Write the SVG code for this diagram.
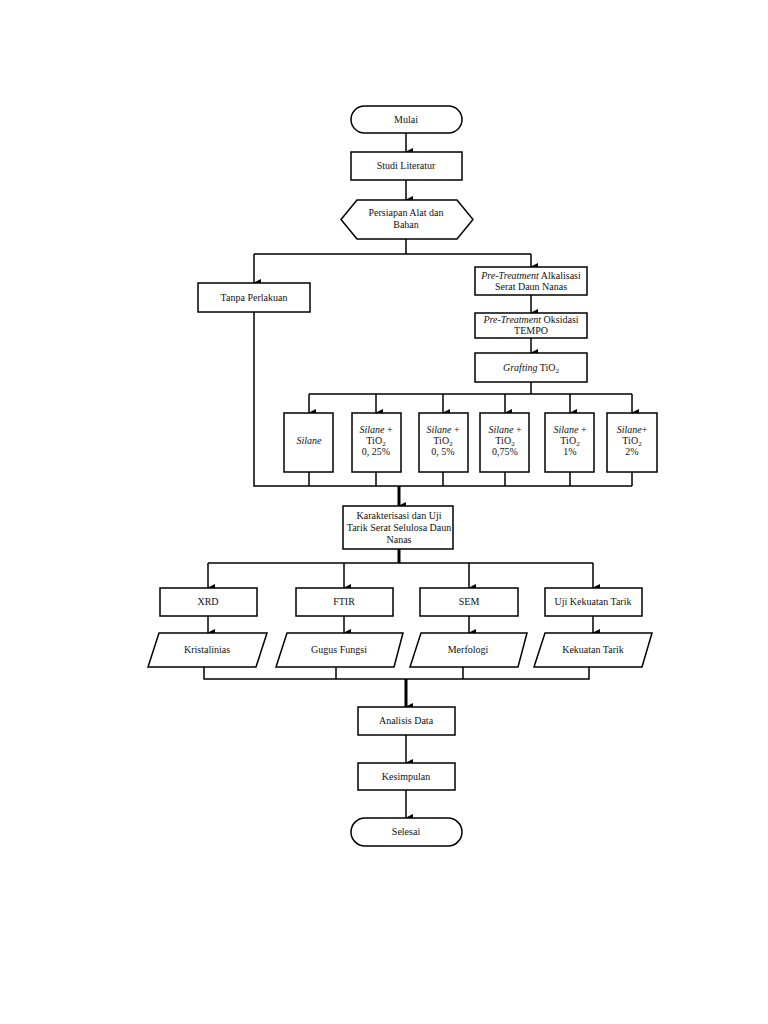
<svg xmlns="http://www.w3.org/2000/svg" width="768" height="1024" viewBox="0 0 768 1024">
<style>
.n{fill:#fff;stroke:#000;stroke-width:1.5}
.c{fill:none;stroke:#000;stroke-width:1.5}
.t{stroke-width:3}
text{font-family:"Liberation Serif",serif;font-size:10px;text-anchor:middle;fill:#111}
.i{font-style:italic}
</style>
<defs><marker id="a" markerWidth="8" markerHeight="8" refX="4" refY="7" orient="auto" markerUnits="userSpaceOnUse" viewBox="0 0 8 8"><path d="M0,0 L8,0 L4,8 z" fill="#000"/></marker></defs>
<rect width="768" height="1024" fill="#fff"/>
<g id="connectors">
<path class="c" d="M406,133 V152" marker-end="url(#a)"/>
<path class="c" d="M406,180 V200" marker-end="url(#a)"/>
<path class="c" d="M406,239 V254 M254,254 H531"/>
<path class="c" d="M254,254 V283" marker-end="url(#a)"/>
<path class="c" d="M531,254 V267" marker-end="url(#a)"/>
<path class="c" d="M531,295 V313" marker-end="url(#a)"/>
<path class="c" d="M531,338 V353" marker-end="url(#a)"/>
<path class="c" d="M531,382 V394 M309,394 H632"/>
<path class="c" d="M309,394 V413" marker-end="url(#a)"/>
<path class="c" d="M376,394 V413" marker-end="url(#a)"/>
<path class="c" d="M443,394 V413" marker-end="url(#a)"/>
<path class="c" d="M505,394 V413" marker-end="url(#a)"/>
<path class="c" d="M570,394 V413" marker-end="url(#a)"/>
<path class="c" d="M632,394 V413" marker-end="url(#a)"/>
<path class="c" d="M254,312 V486 H632 M309,472 V486 M376,472 V486 M443,472 V486 M505,472 V486 M570,472 V486 M632,472 V486"/>
<path class="c t" d="M399,486 V506" marker-end="url(#a)"/>
<path class="c t" d="M399,549 V563"/>
<path class="c" d="M208,563 H593"/>
<path class="c" d="M208,563 V588" marker-end="url(#a)"/>
<path class="c" d="M344,563 V588" marker-end="url(#a)"/>
<path class="c" d="M469,563 V588" marker-end="url(#a)"/>
<path class="c" d="M593,563 V588" marker-end="url(#a)"/>
<path class="c" d="M208,616 V633" marker-end="url(#a)"/>
<path class="c" d="M344,616 V633" marker-end="url(#a)"/>
<path class="c" d="M469,616 V633" marker-end="url(#a)"/>
<path class="c" d="M593,616 V633" marker-end="url(#a)"/>
<path class="c" d="M204,667 V679 H589 V667 M336,667 V679 M463,667 V679"/>
<path class="c t" d="M406,679 V707" marker-end="url(#a)"/>
<path class="c" d="M406,735 V763" marker-end="url(#a)"/>
<path class="c" d="M406,790 V818" marker-end="url(#a)"/>
</g>
<g id="mulai"><rect class="n" x="351" y="106" width="111" height="27" rx="13.5"/><text x="406" y="123">Mulai</text></g>
<g id="studi"><rect class="n" x="351" y="152" width="111" height="28"/><text x="406" y="169">Studi Literatur</text></g>
<g id="persiapan"><polygon class="n" points="357,200 457,200 473,219.5 457,239 357,239 341,219.5"/><text x="406" y="216">Persiapan Alat dan</text><text x="406" y="228">Bahan</text></g>
<g id="tanpa"><rect class="n" x="198" y="283" width="112" height="29"/><text x="254" y="301">Tanpa Perlakuan</text></g>
<g id="alkalisasi"><rect class="n" x="475" y="267" width="112" height="28"/><text x="531" y="279"><tspan class="i">Pre-Treatment</tspan> Alkalisasi</text><text x="531" y="290">Serat Daun Nanas</text></g>
<g id="oksidasi"><rect class="n" x="475" y="313" width="112" height="25"/><text x="531" y="323"><tspan class="i">Pre-Treatment</tspan> Oksidasi</text><text x="531" y="334">TEMPO</text></g>
<g id="grafting"><rect class="n" x="475" y="353" width="112" height="29"/><text x="531" y="371"><tspan class="i">Grafting</tspan> TiO<tspan font-size="7" dy="2">2</tspan></text></g>
<g id="s0"><rect class="n" x="284" y="413" width="49" height="59"/><text class="i" x="309" y="444">Silane</text></g>
<g id="s1"><rect class="n" x="352" y="413" width="49" height="59"/><text x="376" y="433"><tspan class="i">Silane</tspan> +</text><text x="376" y="444">TiO<tspan font-size="7" dy="2">2</tspan></text><text x="376" y="455">0, 25%</text></g>
<g id="s2"><rect class="n" x="419" y="413" width="49" height="59"/><text x="443" y="433"><tspan class="i">Silane</tspan> +</text><text x="443" y="444">TiO<tspan font-size="7" dy="2">2</tspan></text><text x="443" y="455">0, 5%</text></g>
<g id="s3"><rect class="n" x="480" y="413" width="49" height="59"/><text x="505" y="433"><tspan class="i">Silane</tspan> +</text><text x="505" y="444">TiO<tspan font-size="7" dy="2">2</tspan></text><text x="505" y="455">0,75%</text></g>
<g id="s4"><rect class="n" x="545" y="413" width="49" height="59"/><text x="570" y="433"><tspan class="i">Silane</tspan> +</text><text x="570" y="444">TiO<tspan font-size="7" dy="2">2</tspan></text><text x="570" y="455">1%</text></g>
<g id="s5"><rect class="n" x="607" y="413" width="50" height="59"/><text x="632" y="433"><tspan class="i">Silane</tspan>+</text><text x="632" y="444">TiO<tspan font-size="7" dy="2">2</tspan></text><text x="632" y="455">2%</text></g>
<g id="karakterisasi"><rect class="n" x="343" y="506" width="110" height="43"/><text x="399" y="519">Karakterisasi dan Uji</text><text x="399" y="531">Tarik Serat Selulosa Daun</text><text x="399" y="543">Nanas</text></g>
<g id="xrd"><rect class="n" x="160" y="588" width="97" height="28"/><text x="208" y="605">XRD</text></g>
<g id="ftir"><rect class="n" x="296" y="588" width="97" height="28"/><text x="344" y="605">FTIR</text></g>
<g id="sem"><rect class="n" x="420" y="588" width="98" height="28"/><text x="469" y="605">SEM</text></g>
<g id="uji"><rect class="n" x="545" y="588" width="97" height="28"/><text x="593" y="605">Uji Kekuatan Tarik</text></g>
<g id="kristalinitas"><polygon class="n" points="159,633 267,633 256,667 148,667"/><text x="207" y="653">Kristalinias</text></g>
<g id="gugus"><polygon class="n" points="287,633 403,633 394,667 276,667"/><text x="339" y="653">Gugus Fungsi</text></g>
<g id="morfologi"><polygon class="n" points="421,633 527,633 518,667 410,667"/><text x="468" y="653">Merfologi</text></g>
<g id="kekuatan"><polygon class="n" points="545,633 652,633 642,667 534,667"/><text x="593" y="653">Kekuatan Tarik</text></g>
<g id="analisis"><rect class="n" x="358" y="707" width="97" height="28"/><text x="406" y="724">Analisis Data</text></g>
<g id="kesimpulan"><rect class="n" x="358" y="763" width="97" height="27"/><text x="406" y="780">Kesimpulan</text></g>
<g id="selesai"><rect class="n" x="351" y="818" width="111" height="28" rx="14"/><text x="406" y="835">Selesai</text></g>
</svg>
